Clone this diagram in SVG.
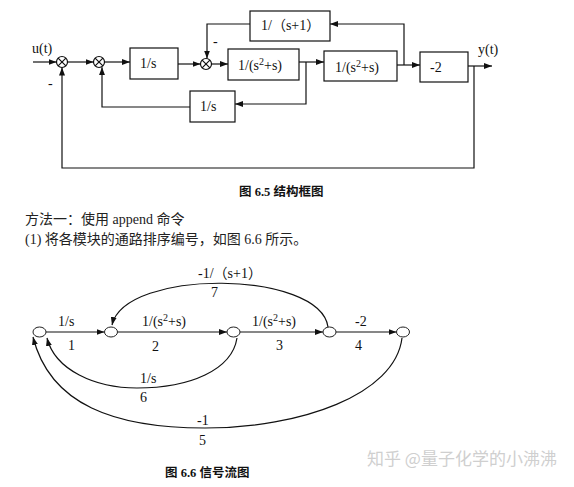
<svg xmlns="http://www.w3.org/2000/svg" width="574" height="487" viewBox="0 0 574 487">
<style>
.bg{fill:#fff}
.blk{fill:#fff;stroke:#111;stroke-width:1.2}
.ln{fill:none;stroke:#111;stroke-width:1.2}
.sum{fill:#fff;stroke:#111;stroke-width:1.2}
.nd{fill:#fff;stroke:#222;stroke-width:1}
.t{font-family:"Liberation Serif","Noto Sans CJK SC",serif;font-size:14px;fill:#111}
.cap{font-family:"Liberation Serif","Noto Sans CJK SC",serif;font-size:12.5px;font-weight:bold;fill:#111}
.body{font-family:"Liberation Serif","Noto Sans CJK SC",serif;font-size:14px;fill:#222}
.wm{font-family:"Noto Sans CJK SC",sans-serif;font-size:17px;fill:#cfcfcf}
</style>
<defs>
<marker id="ah" markerWidth="8" markerHeight="6" refX="8" refY="3" orient="auto" markerUnits="userSpaceOnUse">
<path d="M0,0 L8,3 L0,6 z" fill="#111"/>
</marker>
</defs>
<rect class="bg" x="0" y="0" width="574" height="487"/>

<!-- Top block diagram -->
<g id="sum1"><circle class="sum" cx="62" cy="62" r="5.5"/><path class="ln" d="M58.1,58.1 L65.9,65.9 M65.9,58.1 L58.1,65.9"/></g>
<g id="sum2"><circle class="sum" cx="99" cy="62" r="5.5"/><path class="ln" d="M95.1,58.1 L102.9,65.9 M102.9,58.1 L95.1,65.9"/></g>
<g id="sum3"><circle class="sum" cx="206" cy="64" r="5.5"/><path class="ln" d="M202.1,60.1 L209.9,67.9 M209.9,60.1 L202.1,67.9"/></g>
<g id="b1"><rect class="blk" x="130" y="48" width="48" height="31"/><text class="t" x="140" y="68">1/s</text></g>
<g id="bA"><rect class="blk" x="228" y="49" width="71" height="31"/><text class="t" x="238" y="70">1/(s<tspan font-size="10" dy="-5">2</tspan><tspan dy="5">+s)</tspan></text></g>
<g id="bF"><rect class="blk" x="250" y="11" width="80" height="30"/><text class="t" x="261" y="30">1/（s+1）</text></g>
<g id="bB"><rect class="blk" x="324" y="51" width="73" height="30"/><text class="t" x="335" y="72">1/(s<tspan font-size="10" dy="-5">2</tspan><tspan dy="5">+s)</tspan></text></g>
<g id="b2"><rect class="blk" x="420" y="52" width="48" height="30"/><text class="t" x="430" y="72">-2</text></g>
<g id="bG"><rect class="blk" x="190" y="91" width="45" height="31"/><text class="t" x="200" y="111">1/s</text></g>

<g id="connectors">
<path class="ln" d="M33,62 H56.5" marker-end="url(#ah)"/>
<path class="ln" d="M67.5,62 H93.5" marker-end="url(#ah)"/>
<path class="ln" d="M104.5,62 H130" marker-end="url(#ah)"/>
<path class="ln" d="M178,64 H200.5" marker-end="url(#ah)"/>
<path class="ln" d="M211.5,64 H228" marker-end="url(#ah)"/>
<path class="ln" d="M299,62 H324" marker-end="url(#ah)"/>
<path class="ln" d="M306,62 V104 H235" marker-end="url(#ah)"/>
<path class="ln" d="M190,107 H102 V67.2" marker-end="url(#ah)"/>
<path class="ln" d="M397,65 H420" marker-end="url(#ah)"/>
<path class="ln" d="M404,65 V24 H330" marker-end="url(#ah)"/>
<path class="ln" d="M250,24 H207 V58.5" marker-end="url(#ah)"/>
<path class="ln" d="M468,66 H492" marker-end="url(#ah)"/>
<path class="ln" d="M474,66 V168 H62 V67.5" marker-end="url(#ah)"/>

<!-- signal flow graph edges -->
<path class="ln" d="M46,332 H104.5" marker-end="url(#ah)"/>
<path class="ln" d="M117.5,332 H227" marker-end="url(#ah)"/>
<path class="ln" d="M240,332 H323" marker-end="url(#ah)"/>
<path class="ln" d="M336,332 H396.5" marker-end="url(#ah)"/>
<path class="ln" d="M328,327 C320,270 125,268 112,325" marker-end="url(#ah)"/>
<path class="ln" d="M237,338 C232,370 190,388 137,388 C95,388 55,370 47,338" marker-end="url(#ah)"/>
<path class="ln" d="M402,338 C395,395 300,428 205,428 C115,428 50,405 33,337" marker-end="url(#ah)"/>
</g>

<text class="t" x="32" y="53">u(t)</text>
<text class="t" x="478" y="54">y(t)</text>
<text class="t" x="48" y="88">-</text>
<text class="t" x="213" y="46">-</text>
<text class="cap" x="239" y="196">图 6.5 结构框图</text>

<text class="body" x="25" y="224">方法一：使用 append 命令</text>
<text class="body" x="25" y="244">(1) 将各模块的通路排序编号，如图 6.6 所示。</text>

<!-- signal flow nodes -->
<g id="n0"><ellipse class="nd" cx="39.5" cy="332" rx="6.5" ry="5"/></g>
<g id="n1"><ellipse class="nd" cx="111" cy="332" rx="6.5" ry="5"/></g>
<g id="n2"><ellipse class="nd" cx="233.5" cy="332" rx="6.5" ry="5"/></g>
<g id="n3"><ellipse class="nd" cx="329.5" cy="332" rx="6.5" ry="5"/></g>
<g id="n4"><ellipse class="nd" cx="403" cy="332" rx="6.5" ry="5"/></g>

<text class="t" x="58" y="326">1/s</text>
<text class="t" x="68" y="350">1</text>
<text class="t" x="142" y="326">1/(s<tspan font-size="10" dy="-5">2</tspan><tspan dy="5">+s)</tspan></text>
<text class="t" x="152" y="351">2</text>
<text class="t" x="252" y="326">1/(s<tspan font-size="10" dy="-5">2</tspan><tspan dy="5">+s)</tspan></text>
<text class="t" x="276" y="350">3</text>
<text class="t" x="355" y="326">-2</text>
<text class="t" x="355" y="350">4</text>
<text class="t" x="198" y="278">-1/（s+1）</text>
<text class="t" x="211" y="297">7</text>
<text class="t" x="140" y="383">1/s</text>
<text class="t" x="140" y="402">6</text>
<text class="t" x="197" y="425">-1</text>
<text class="t" x="199" y="445">5</text>

<text class="cap" x="165" y="477">图 6.6 信号流图</text>
<text class="wm" x="367" y="465">知乎 @量子化学的小沸沸</text>
</svg>
